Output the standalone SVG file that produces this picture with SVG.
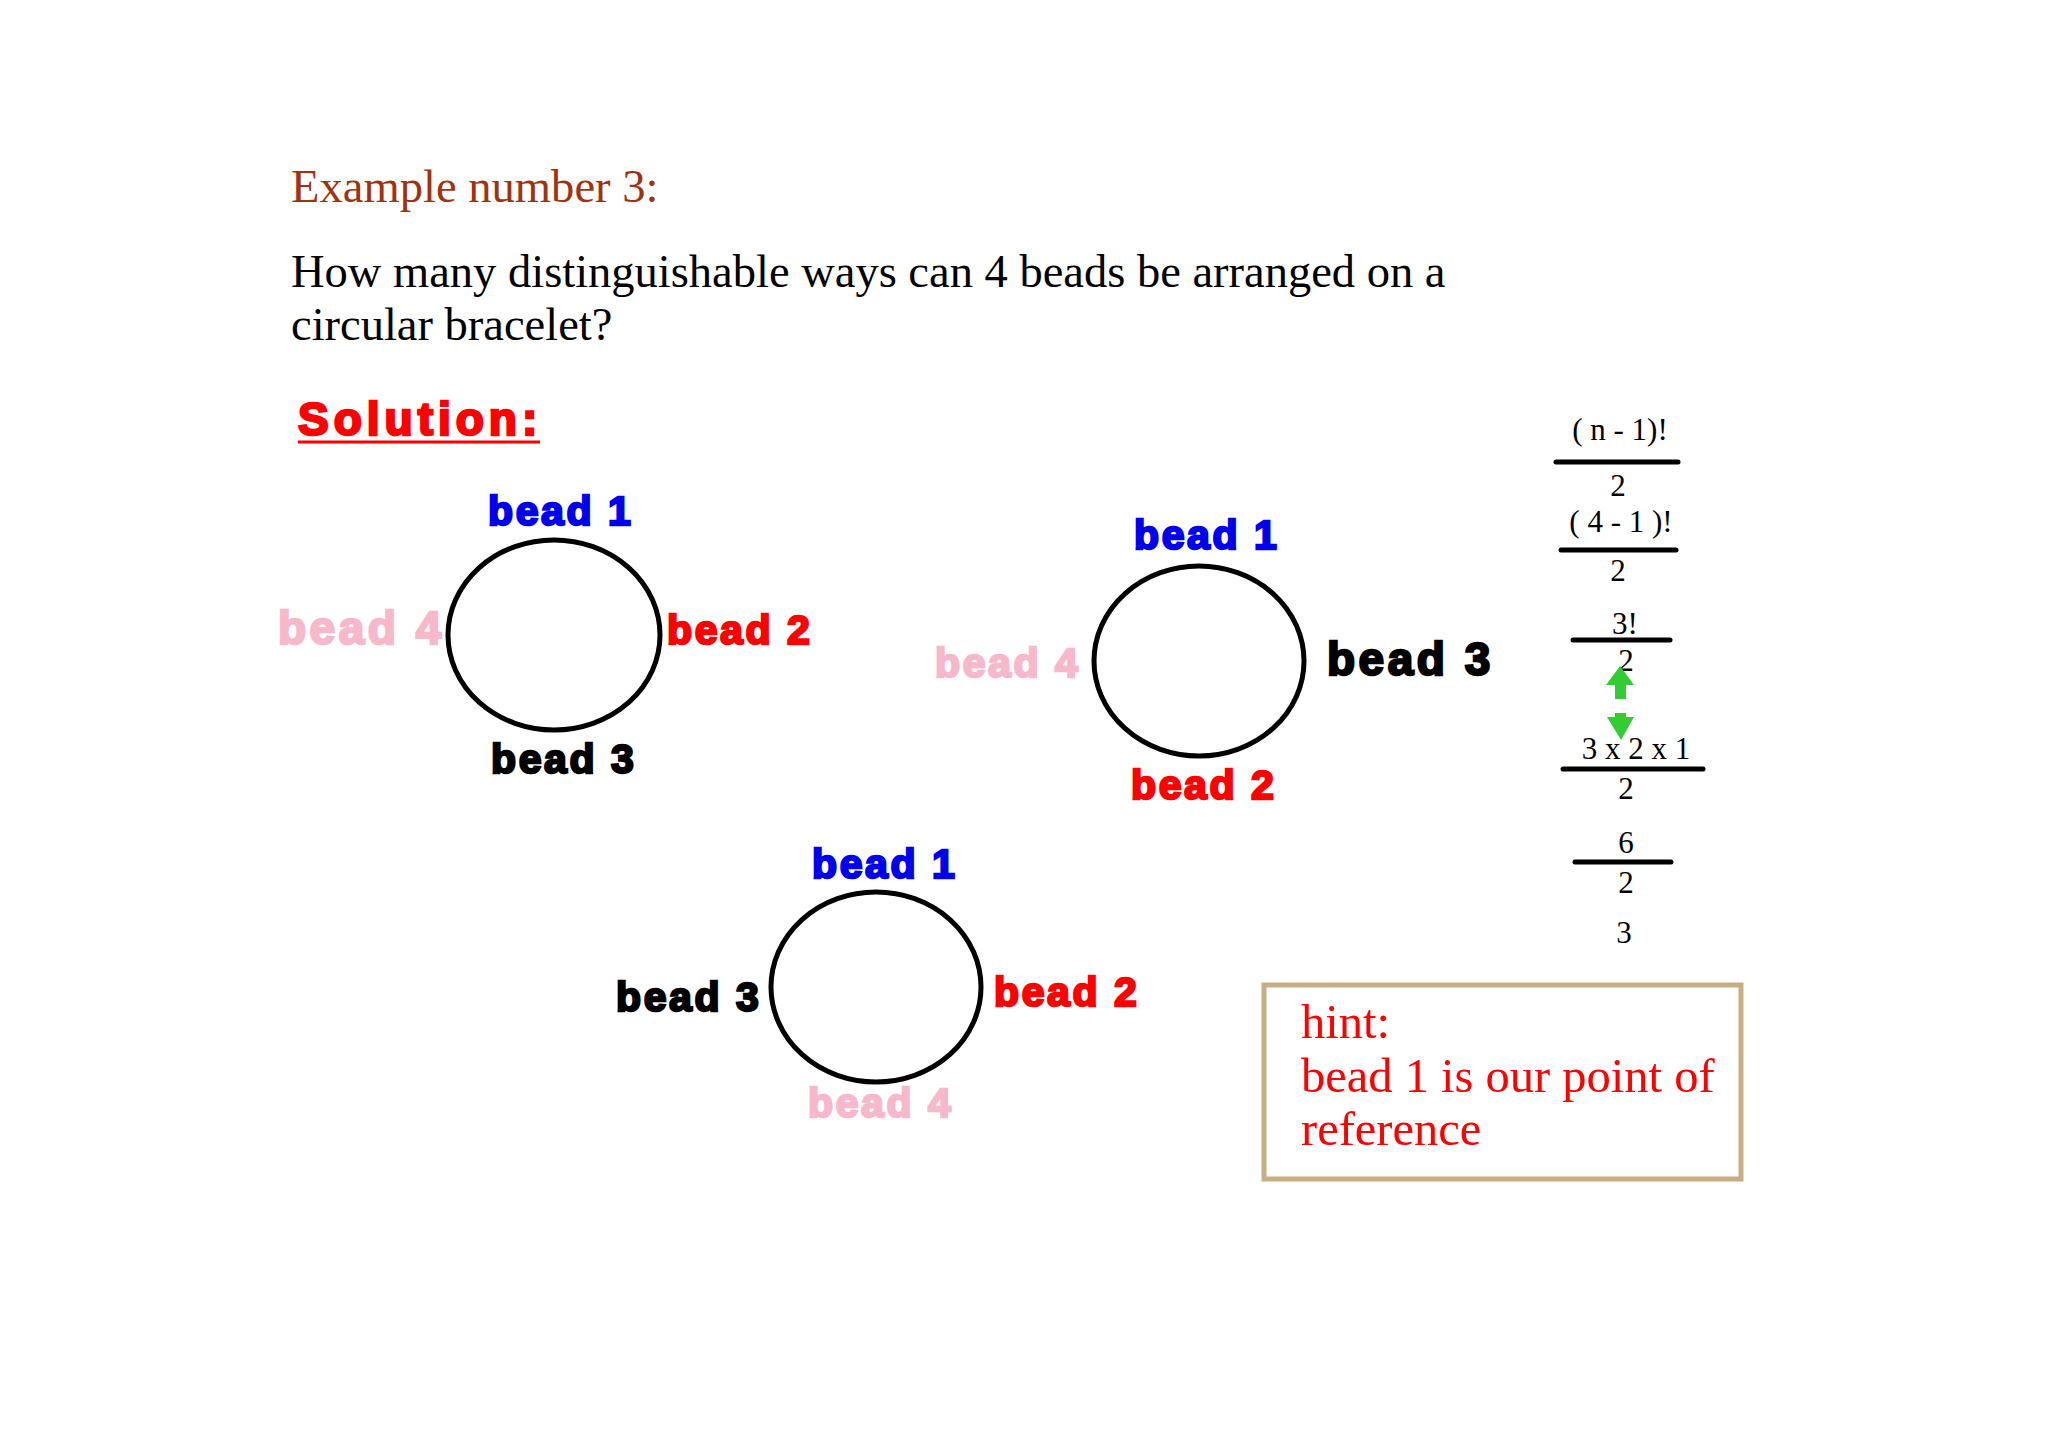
<svg xmlns="http://www.w3.org/2000/svg" width="2048" height="1447" viewBox="0 0 2048 1447">
<style>
.t{font-family:"Liberation Serif","Times New Roman",serif}
.b{font-family:"Liberation Sans",Arial,sans-serif;font-weight:bold;font-size:41px;stroke-width:2.4px;letter-spacing:2.6px}
.ring{fill:none;stroke:#000;stroke-width:5}
.f{font-family:"Liberation Serif",serif;font-size:31px;text-anchor:middle;fill:#000}
.bar{stroke:#000;stroke-width:5;stroke-linecap:round}
.blue{fill:#0000ee;stroke:#0000ee}.red{fill:#ff0000;stroke:#ff0000}.blk{fill:#000;stroke:#000}.pink{fill:#f7b8cc;stroke:#f7b8cc}
</style>
<rect width="2048" height="1447" fill="#fff"/>
<text class="t" x="291" y="202" font-size="46.6" fill="#a0330f">Example number 3:</text>
<text class="t" x="291" y="287" font-size="46.5" fill="#000">How many distinguishable ways can 4 beads be arranged on a</text>
<text class="t" x="291" y="340" font-size="46.5" fill="#000">circular bracelet?</text>
<text x="298" y="435" font-family="Liberation Sans,Arial,sans-serif" font-weight="bold" font-size="46" letter-spacing="5" fill="#f00" stroke="#f00" stroke-width="2.5">Solution:</text>
<line x1="298" y1="442" x2="540" y2="442" stroke="#f00" stroke-width="3"/>
<g id="bracelet1">
<ellipse class="ring" cx="554" cy="635" rx="106" ry="95"/>
<text class="b blue" x="488" y="525">bead 1</text>
<text class="b pink" x="278" y="644" style="font-size:46px;letter-spacing:3.5px">bead 4</text>
<text class="b red" x="667" y="644">bead 2</text>
<text class="b blk" x="491" y="773">bead 3</text>
</g>
<g id="bracelet2">
<ellipse class="ring" cx="1199" cy="661" rx="105" ry="95"/>
<text class="b blue" x="1134" y="549">bead 1</text>
<text class="b pink" x="935" y="677">bead 4</text>
<text class="b blk" x="1327" y="675" style="font-size:46px;letter-spacing:3.5px">bead 3</text>
<text class="b red" x="1131" y="799">bead 2</text>
</g>
<g id="bracelet3">
<ellipse class="ring" cx="876" cy="987" rx="105" ry="95"/>
<text class="b blue" x="812" y="878">bead 1</text>
<text class="b blk" x="616" y="1011">bead 3</text>
<text class="b red" x="994" y="1006">bead 2</text>
<text class="b pink" x="808" y="1117">bead 4</text>
</g>
<g id="formula">
<text class="f" x="1620" y="440">( n - 1)!</text>
<line class="bar" x1="1556" y1="462" x2="1678" y2="462"/>
<text class="f" x="1618" y="496">2</text>
<text class="f" x="1621" y="532">( 4 - 1 )!</text>
<line class="bar" x1="1561" y1="550" x2="1676" y2="550"/>
<text class="f" x="1618" y="581">2</text>
<text class="f" x="1625" y="634">3!</text>
<line class="bar" x1="1573" y1="640" x2="1670" y2="640"/>
<text class="f" x="1626" y="671">2</text>
<text class="f" x="1636" y="759">3 x 2 x 1</text>
<line class="bar" x1="1563" y1="769" x2="1703" y2="769"/>
<text class="f" x="1626" y="799">2</text>
<text class="f" x="1626" y="853">6</text>
<line class="bar" x1="1575" y1="862" x2="1671" y2="862"/>
<text class="f" x="1626" y="893">2</text>
<text class="f" x="1624" y="943">3</text>
</g>
<g id="arrows" fill="#33cc33">
<polygon points="1620,666 1634,685 1626,685 1626,699 1615,699 1615,685 1606,685"/>
<polygon points="1615,713 1626,713 1626,717 1634,717 1621,740 1607,717 1615,717"/>
</g>
<g id="hint">
<rect x="1264" y="985" width="477" height="194" fill="none" stroke="#c8ad85" stroke-width="5"/>
<text class="t" font-size="48.5" fill="#ff0000"><tspan x="1301" y="1038">hint:</tspan><tspan x="1301" y="1092">bead 1 is our point of</tspan><tspan x="1301" y="1145">reference</tspan></text>
</g>
</svg>
